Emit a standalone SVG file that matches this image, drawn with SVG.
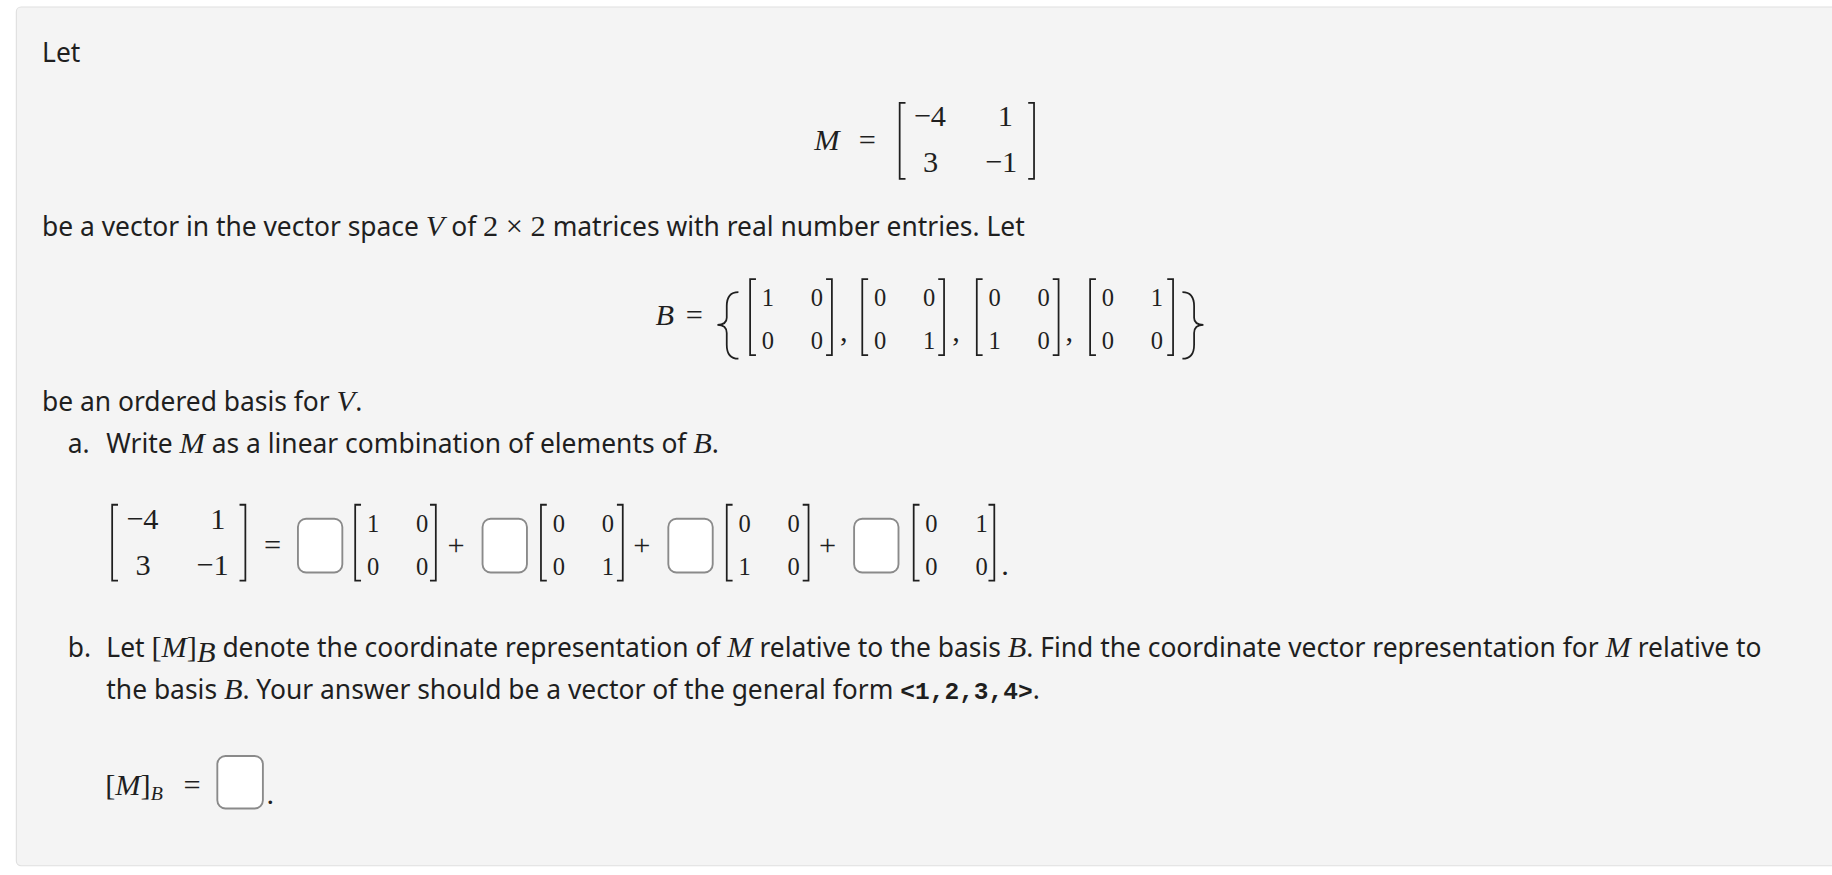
<svg xmlns="http://www.w3.org/2000/svg" width="1832" height="875" viewBox="0 0 1832 875">
<style>
.t{font-family:"Noto Sans","Open Sans","Liberation Sans",sans-serif;font-size:22.6px;fill:#1f1f1f}
.m{font-family:"Liberation Serif","DejaVu Serif",serif;font-size:26px;fill:#1f1f1f}
.s{font-family:"Liberation Serif","DejaVu Serif",serif;font-size:21px;fill:#1f1f1f}
.i{font-style:italic}
.br{fill:none;stroke:#1f1f1f;stroke-width:1.5}
.box{fill:#fff;stroke:#8a8a8a;stroke-width:1.6}
.mono{font-family:"Liberation Mono",monospace;font-weight:bold}
</style>
<rect width="1832" height="875" fill="#fff"/>
<g transform="scale(1.1684)">
<rect id="panel" x="14" y="6" width="1580" height="735" rx="4" fill="#f4f4f4" stroke="#e0e0e0"/>
<g id="text">
<text class="t" x="36" y="53">Let</text>
<text class="t" x="36" y="202">be a vector in the vector space <tspan class="m i">V</tspan> of <tspan class="m">2 × 2</tspan> matrices with real number entries. Let</text>
<text class="t" x="36" y="352">be an ordered basis for <tspan class="m i">V</tspan>.</text>
<text class="t" x="58" y="388">a.</text>
<text class="t" x="91" y="388">Write <tspan class="m i">M</tspan> as a linear combination of elements of <tspan class="m i">B</tspan>.</text>
<text class="t" x="58" y="562">b.</text>
<text class="t" x="91" y="562">Let <tspan class="m">[<tspan class="i">M</tspan>]</tspan><tspan class="m i" font-size="16" dy="5">B</tspan><tspan dy="-5"> denote the coordinate representation of </tspan><tspan class="m i">M</tspan> relative to the basis <tspan class="m i">B</tspan>. Find the coordinate vector representation for <tspan class="m i">M</tspan> relative to</text>
<text class="t" x="91" y="598">the basis <tspan class="m i">B</tspan>. Your answer should be a vector of the general form <tspan class="mono" font-size="21">&lt;1,2,3,4&gt;</tspan>.</text>
</g>
<g id="eqM">
<text class="m i" x="697" y="128" font-size="28">M</text>
<text class="m" x="735" y="128" font-size="26">=</text>
<path class="br" d="M775,88 H770 V153 H775 M880,88 H885 V153 H880"/>
<text class="m" x="782" y="108">−4</text><text class="m" x="854" y="108">1</text>
<text class="m" x="790" y="147">3</text><text class="m" x="843" y="147">−1</text>
</g>
<g id="eqB">
<text class="m i" x="561" y="278" font-size="28">B</text>
<text class="m" x="587" y="278" font-size="26">=</text>
<path class="br" d="M632,250 Q622,250 622,262 V272 Q622,278 614,278 Q622,278 622,285 V295 Q622,307 632,307"/>
<path class="br" d="M1012,250 Q1022,250 1022,262 V272 Q1022,278 1030,278 Q1022,278 1022,285 V295 Q1022,307 1012,307"/>
<path class="br" d="M647,239 H642 V304 H647 M707,239 H712 V304 H707"/>
<text class="s" x="652" y="262">1</text><text class="s" x="694" y="262">0</text><text class="s" x="652" y="299">0</text><text class="s" x="694" y="299">0</text>
<text class="m" x="719" y="292">,</text>
<path class="br" d="M743,239 H738 V304 H743 M803,239 H808 V304 H803"/>
<text class="s" x="748" y="262">0</text><text class="s" x="790" y="262">0</text><text class="s" x="748" y="299">0</text><text class="s" x="790" y="299">1</text>
<text class="m" x="815" y="292">,</text>
<path class="br" d="M841,239 H836 V304 H841 M901,239 H906 V304 H901"/>
<text class="s" x="846" y="262">0</text><text class="s" x="888" y="262">0</text><text class="s" x="846" y="299">1</text><text class="s" x="888" y="299">0</text>
<text class="m" x="912" y="292">,</text>
<path class="br" d="M938,239 H933 V304 H938 M999,239 H1004 V304 H999"/>
<text class="s" x="943" y="262">0</text><text class="s" x="985" y="262">1</text><text class="s" x="943" y="299">0</text><text class="s" x="985" y="299">0</text>
</g>
<g id="eqA">
<path class="br" d="M101,432 H96 V497 H101 M205,432 H210 V497 H205"/>
<text class="m" x="108" y="453">−4</text><text class="m" x="180" y="453">1</text>
<text class="m" x="116" y="492">3</text><text class="m" x="168" y="492">−1</text>
<text class="m" x="226" y="475" font-size="26">=</text>
<rect class="box" x="255" y="444" width="38" height="46" rx="7"/>
<path class="br" d="M309,432 H304 V497 H309 M368,432 H373 V497 H368"/>
<text class="s" x="314" y="455">1</text><text class="s" x="356" y="455">0</text><text class="s" x="314" y="492">0</text><text class="s" x="356" y="492">0</text>
<text class="m" x="383" y="475" font-size="26">+</text>
<rect class="box" x="413" y="444" width="38" height="46" rx="7"/>
<path class="br" d="M468,432 H463 V497 H468 M528,432 H533 V497 H528"/>
<text class="s" x="473" y="455">0</text><text class="s" x="515" y="455">0</text><text class="s" x="473" y="492">0</text><text class="s" x="515" y="492">1</text>
<text class="m" x="542" y="475" font-size="26">+</text>
<rect class="box" x="572" y="444" width="38" height="46" rx="7"/>
<path class="br" d="M627,432 H622 V497 H627 M687,432 H692 V497 H687"/>
<text class="s" x="632" y="455">0</text><text class="s" x="674" y="455">0</text><text class="s" x="632" y="492">1</text><text class="s" x="674" y="492">0</text>
<text class="m" x="701" y="475" font-size="26">+</text>
<rect class="box" x="731" y="444" width="38" height="46" rx="7"/>
<path class="br" d="M787,432 H782 V497 H787 M846,432 H851 V497 H846"/>
<text class="s" x="792" y="455">0</text><text class="s" x="835" y="455">1</text><text class="s" x="792" y="492">0</text><text class="s" x="835" y="492">0</text>
<text class="m" x="857" y="492">.</text>
</g>
<g id="eqMB">
<text class="m" x="90" y="680" font-size="26">[<tspan class="i">M</tspan>]<tspan class="i" font-size="17" dy="5">B</tspan></text>
<text class="m" x="157" y="680" font-size="26">=</text>
<rect class="box" x="186" y="647" width="39" height="45" rx="7"/>
<text class="m" x="228" y="688">.</text>
</g>
</g>
</svg>
